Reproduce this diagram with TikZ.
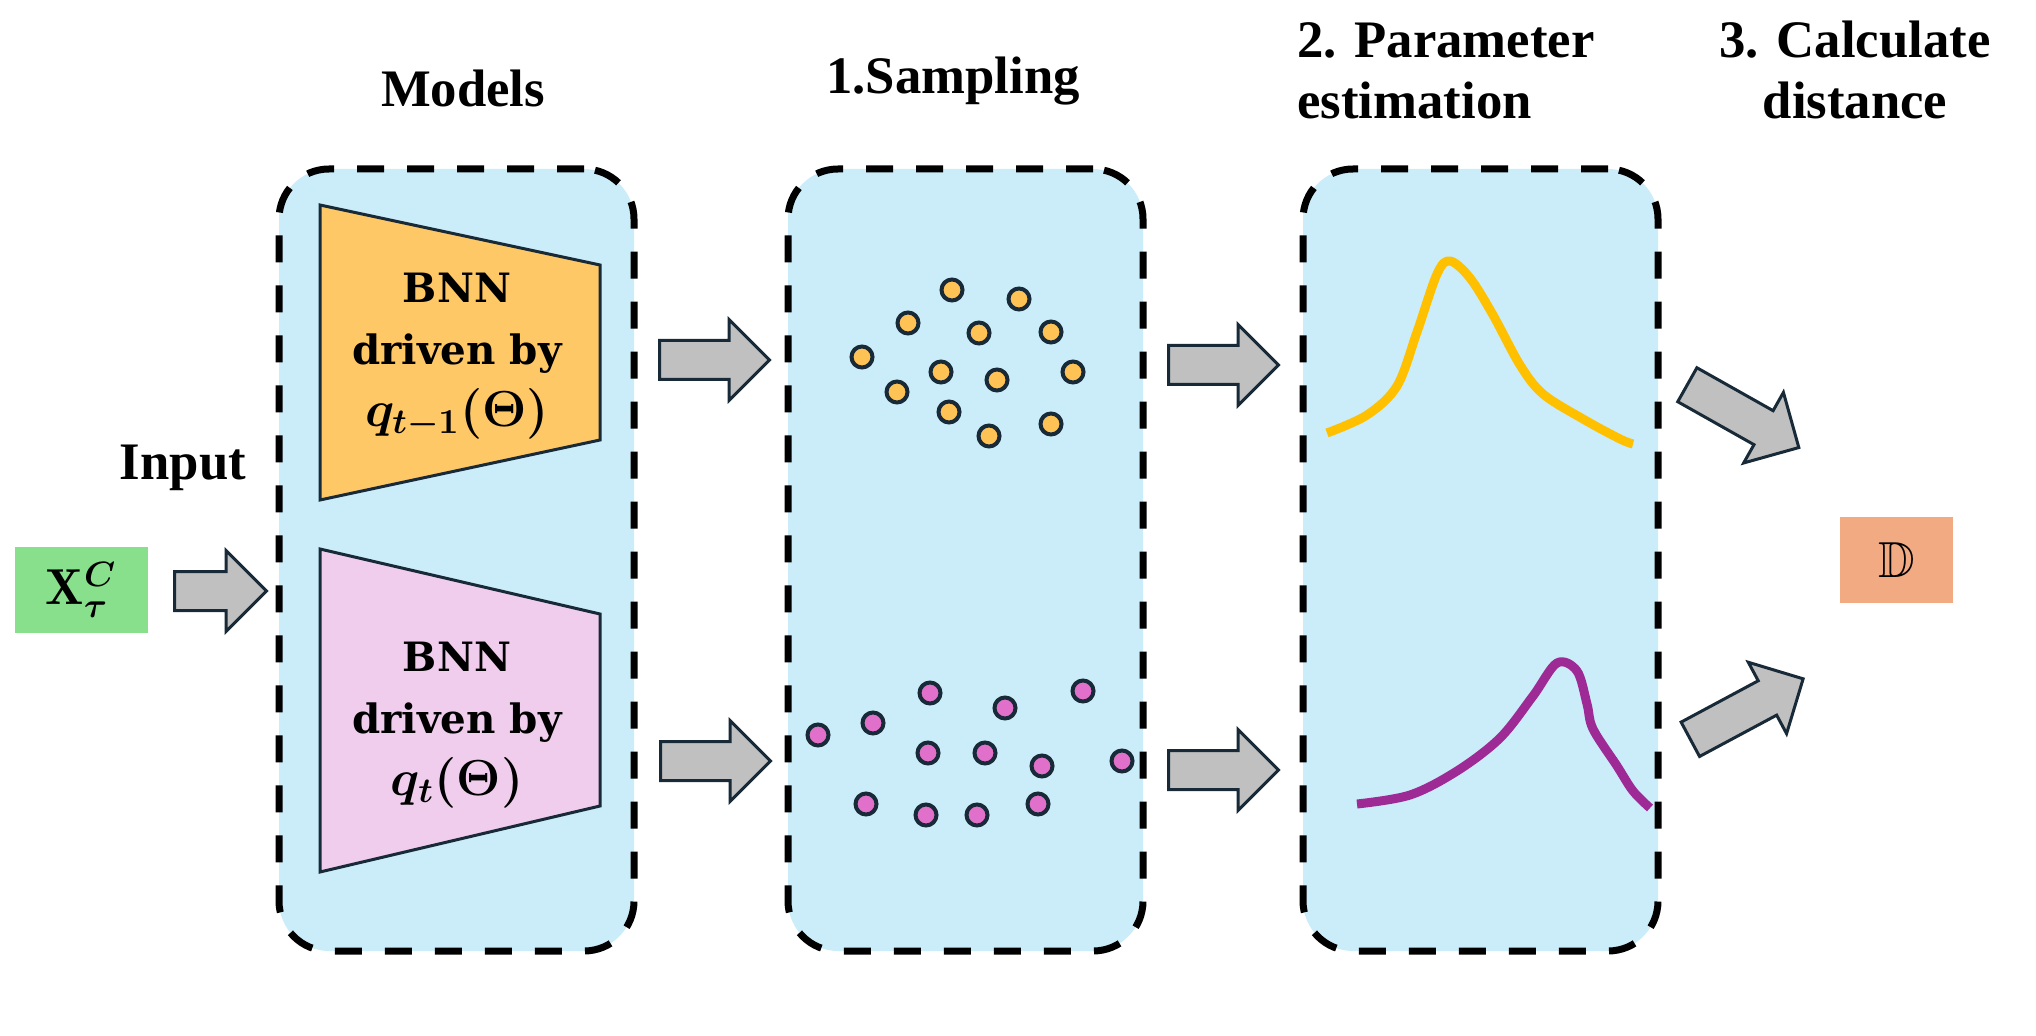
\documentclass[tikz,border=0pt]{standalone}
\usepackage{amsmath,amssymb,bm}
\usepackage{fontspec}
\newfontfamily\titlefont{Liberation Serif}
\newfontfamily\bnnfont{DejaVu Serif}
\usetikzlibrary{shapes.arrows,positioning}

\definecolor{stagebg}{RGB}{203,237,250}
\definecolor{oldfill}{RGB}{255,200,102}
\definecolor{newfill}{RGB}{240,205,237}
\definecolor{inkline}{RGB}{24,42,56}
\definecolor{arrgray}{RGB}{192,192,192}
\definecolor{dotyel}{RGB}{255,194,84}
\definecolor{dotpink}{RGB}{224,112,202}
\definecolor{curveyel}{RGB}{255,192,0}
\definecolor{curvepur}{RGB}{158,42,150}
\definecolor{inputgreen}{RGB}{136,224,140}
\definecolor{distsalmon}{RGB}{242,170,130}

\newcommand{\qline}[1]{{\fontsize{14.4}{17.6}\selectfont$\boldsymbol{#1}$}}

\tikzset{
  stage/.style={draw=black, fill=stagebg, line width=0.7mm,
    dash pattern=on 2.7mm off 2.3mm, rounded corners=5mm,
    minimum width=35.5mm, minimum height=78.2mm, inner sep=0pt},
  blockarr/.style={single arrow, draw=inkline, fill=arrgray, line width=0.3mm,
    inner sep=0pt, inner ysep=1.8mm, single arrow head extend=2.1mm,
    single arrow tip angle=90, minimum height=11mm, anchor=tail},
  title/.style={font=\titlefont\bfseries\fontsize{15}{18}\selectfont},
  bnn/.style={align=center, font=\bnnfont\bfseries\fontsize{11.5}{17.6}\selectfont},
  trap/.style={draw=inkline, line width=0.3mm},
  dot/.style={circle, draw=inkline, line width=0.4mm, minimum size=2.1mm, inner sep=0pt},
  curve/.style={line width=0.9mm, line join=round},
}

\begin{document}
\begin{tikzpicture}[x=0.1mm, y=-0.1mm]
\useasboundingbox (0,0) rectangle (2036,1036);

% titles
\node[title, anchor=base] (tinput) at (183,480) {Input};
\node[title, anchor=base] (tmodels) at (463,107) {Models};
\node[title, anchor=base] (tsampling) at (953,94) {1.Sampling};
\node[title, anchor=base west] (tparama) at (1285,58) {2. Parameter};
\node[title, anchor=base west] (tparamb) at ([yshift=-6.1mm]tparama.base west) {estimation};
\node[title, anchor=base] (tcalca) at (1855,58) {3. Calculate};
\node[title, anchor=base] (tcalcb) at ([yshift=-6.1mm]tcalca.base) {distance};

% stages
\node[stage] (models) at (456.5,560) {};
\node[stage] (sampling) at (965.5,560) {};
\node[stage] (estim) at (1480.5,560) {};

% input and output
\node[fill=inputgreen, minimum width=13.3mm, minimum height=8.6mm, inner sep=0pt,
  font=\fontsize{14.4}{16}\selectfont] (xin) at (81.5,590)
  {$\mathbf{X}^{\boldsymbol{C}}_{\boldsymbol{\tau}}$};
\node[fill=distsalmon, minimum width=11.3mm, minimum height=8.6mm, inner sep=0pt,
  font=\fontsize{14.4}{16}\selectfont] (dist) at (1896.5,560) {$\mathbb{D}$};

% the two networks
\draw[trap, fill=oldfill] (320,205) -- (600,265) -- (600,440) -- (320,500) -- cycle;
\draw[trap, fill=newfill] (320,549) -- (600,614) -- (600,806) -- (320,872) -- cycle;
\node[bnn] (bnnold) at (457,356) {BNN\\driven by\\\qline{q_{t-1}(\Theta)}};
\node[bnn] (bnnnew) at (457,725) {BNN\\driven by\\\qline{q_{t}(\Theta)}};

% block arrows
\node[blockarr, minimum height=9.2mm] (arrin) at (173,591) {};
\node[blockarr] (arrtopa) at (658,360) {};
\node[blockarr] (arrbota) at (659,761) {};
\node[blockarr] (arrtopb) at (1167,365) {};
\node[blockarr] (arrbotb) at (1167,770) {};
\node[blockarr, minimum height=12.8mm, rotate=-29.4] (arrdown) at (1686,384) {};
\node[blockarr, minimum height=12.8mm, rotate=28.2] (arrup) at (1689,740) {};

% samples
\foreach \i/\x/\y in%
    {1/952/290, 2/1019/299, 3/908/323, 4/979/333, 5/1051/332,
     6/862/357, 7/941/372, 8/997/380, 9/1073/372, 10/897/392,
     11/949/412, 12/1051/424, 13/989/436} {
  \node[dot, fill=dotyel] (ydot\i) at (\x,\y) {};
}
\foreach \i/\x/\y in%
    {1/930/693, 2/1083/691, 3/1005/708, 4/873/723, 5/818/735,
     6/928/753, 7/985/753, 8/1042/766, 9/1122/761, 10/866/804,
     11/926/815, 12/977/815, 13/1038/804} {
  \node[dot, fill=dotpink] (pdot\i) at (\x,\y) {};
}

% estimated densities
\draw[curve, curveyel] plot[smooth, tension=0.55] coordinates
  {(1327,433) (1367,415) (1397,386) (1417,332) (1437,274) (1450,261)
   (1470,278) (1493,315) (1520,365) (1543,394) (1583,419) (1620,439) (1633,444)};
\draw[curve, curvepur] plot[smooth, tension=0.55] coordinates
  {(1357,804) (1410,795) (1457,771) (1500,738) (1533,696) (1557,663)
   (1577,671) (1587,704) (1593,729) (1617,766) (1633,791) (1650,808)};

\end{tikzpicture}
\end{document}
